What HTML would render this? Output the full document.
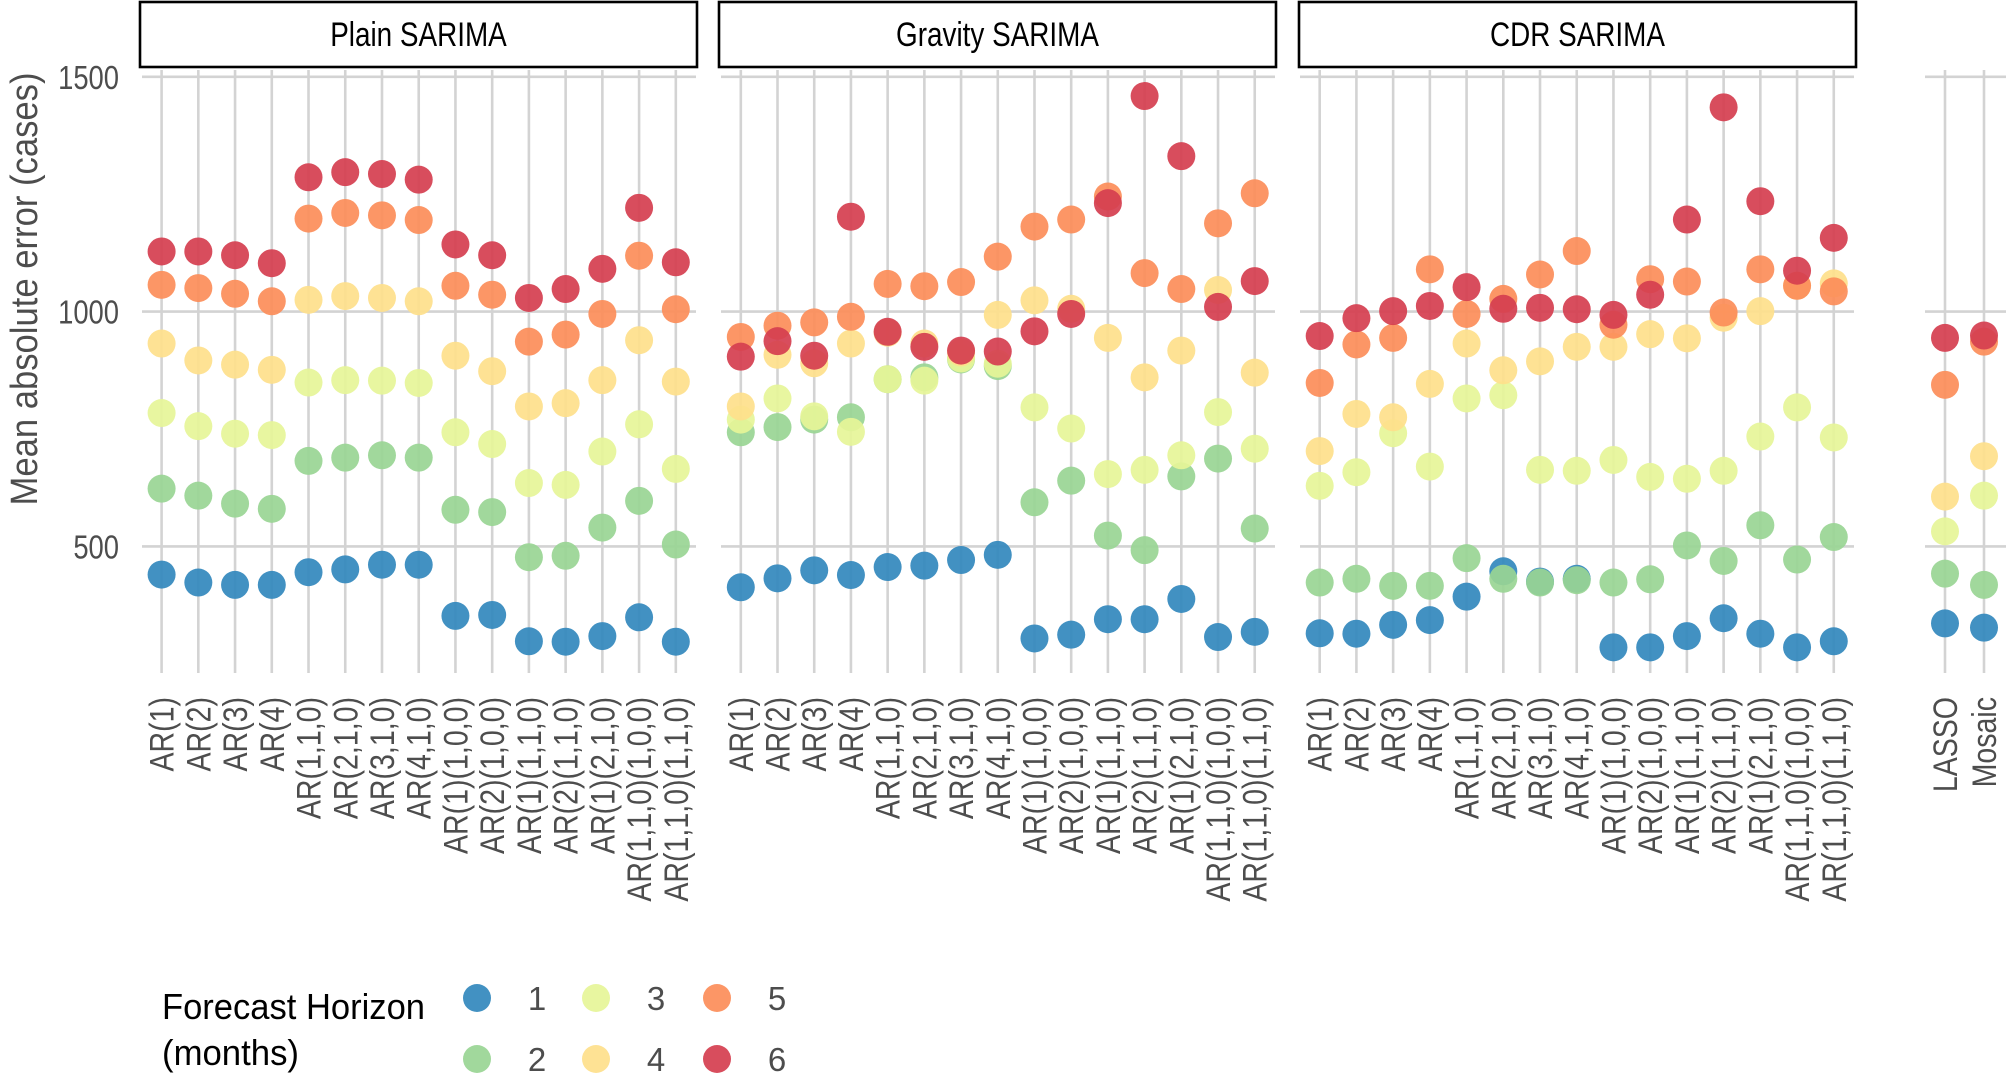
<!DOCTYPE html>
<html><head><meta charset="utf-8"><style>
html,body{margin:0;padding:0;background:#fff}
svg{display:block;font-family:"Liberation Sans Narrow","Liberation Sans",sans-serif}
</style></head><body>
<svg id="chart" width="2006" height="1082" viewBox="0 0 2006 1082" xmlns="http://www.w3.org/2000/svg">
<g id="grid"></g>
<g id="strips"></g>
<g id="points"></g>
<g id="xlabels"></g>
<g id="ylabels"></g>
<text transform="translate(37,289) rotate(-90)" text-anchor="middle" font-size="38" fill="#4d4d4d" textLength="433" lengthAdjust="spacingAndGlyphs">Mean absolute error (cases)</text>
<g id="legend">
<text x="162" y="1019" font-size="36" fill="#000" textLength="263" lengthAdjust="spacingAndGlyphs">Forecast Horizon</text>
<text x="162" y="1065" font-size="36" fill="#000" textLength="137" lengthAdjust="spacingAndGlyphs">(months)</text>
</g>
</svg>
<script>
const panelNames = ["Plain SARIMA","Gravity SARIMA","CDR SARIMA",""];
const catsSarima = ["AR(1)","AR(2)","AR(3)","AR(4)","AR(1,1,0)","AR(2,1,0)","AR(3,1,0)","AR(4,1,0)","AR(1)(1,0,0)","AR(2)(1,0,0)","AR(1)(1,1,0)","AR(2)(1,1,0)","AR(1)(2,1,0)","AR(1,1,0)(1,0,0)","AR(1,1,0)(1,1,0)"];
const catsOther = ["LASSO","Mosaic"];
const horizons = ["1","2","3","4","5","6"];
const yTicks = [500,1000,1500];
// values per panel: each category row = [h1,h2,h3,h4,h5,h6]
const plainVals = [
[440,623,784,932,1057,1128],[423,608,756,896,1050,1128],[418,591,740,887,1038,1120],[418,580,737,876,1022,1103],
[445,682,849,1025,1198,1286],[451,689,854,1033,1210,1297],[461,694,853,1029,1205,1293],[461,689,848,1022,1195,1281],
[352,578,743,906,1055,1143],[354,573,718,873,1036,1120],[298,477,635,798,936,1029],[297,480,631,805,951,1048],
[309,540,702,854,995,1091],[349,597,760,939,1119,1221],[297,504,665,851,1005,1105]];
const gravityVals = [
[413,743,770,798,946,904],[432,754,815,908,970,937],[449,770,777,890,977,906],[439,775,744,932,989,1202],
[456,856,856,955,1059,957],[459,860,853,932,1054,925],[471,898,900,913,1063,917],[482,884,889,993,1117,915],
[304,594,796,1024,1181,958],[312,640,751,1006,1196,995],[345,523,654,944,1245,1231],[345,492,663,860,1082,1459],
[388,649,694,917,1048,1331],[307,687,786,1046,1188,1010],[318,538,708,870,1252,1065]];
const cdrVals = [
[315,423,629,703,848,948],[314,431,658,782,930,986],[333,416,741,775,944,1001],[343,416,670,846,1090,1012],
[393,475,815,932,995,1052],[447,431,822,875,1027,1006],[425,423,663,894,1079,1008],[431,428,661,925,1129,1005],
[285,423,684,925,972,993],[285,430,648,952,1069,1036],[309,502,644,943,1064,1196],[347,469,661,987,998,1435],
[314,545,734,1001,1090,1235],[285,472,796,1055,1055,1087],[298,520,732,1060,1043,1157]];
const otherVals = [[336,442,532,606,844,944],[327,418,608,692,936,949]];
const colors = ["#3288bd","#99d594","#e6f598","#fee08b","#fc8d59","#d53e4f"];

const NS="http://www.w3.org/2000/svg";
function mk(tag,attrs,parent){const e=document.createElementNS(NS,tag);for(const k in attrs)e.setAttribute(k,attrs[k]);parent.appendChild(e);return e;}
function yScale(v){return 311.6-(v-1000)*0.4696;}
const panels=[
 {x0:142,x1:696,first:161.6,step:36.73,cats:catsSarima,vals:plainVals,box:[140,697]},
 {x0:721,x1:1275,first:740.8,step:36.71,cats:catsSarima,vals:gravityVals,box:[719,1276]},
 {x0:1300,x1:1854,first:1319.7,step:36.72,cats:catsSarima,vals:cdrVals,box:[1299,1856]},
 {x0:1925,x1:2006,first:1945,step:39,cats:catsOther,vals:otherVals,box:null}];
const grid=document.getElementById('grid'),strips=document.getElementById('strips'),pts=document.getElementById('points'),xl=document.getElementById('xlabels'),yl=document.getElementById('ylabels');
panels.forEach((p,pi)=>{
  yTicks.forEach(t=>{
    const l=mk('line',{x1:p.x0,x2:p.x1,y1:yScale(t),y2:yScale(t),stroke:'#d3d3d3','stroke-width':2.6},grid);
    
    
  });
  p.cats.forEach((c,ci)=>{
    const x=p.first+ci*p.step;
    const l=mk('line',{x1:x,x2:x,y1:70,y2:673,stroke:'#d3d3d3','stroke-width':2.6},grid);
    
    
    const t=mk('text',{transform:`translate(${x+12},697) rotate(-90) scale(0.84,1)`,'text-anchor':'end','font-size':34,fill:'#4d4d4d'},xl);
    t.textContent=c;
    
    
    p.vals[ci].forEach((v,hi)=>{
      const d=mk('circle',{cx:x,cy:yScale(v),r:14,fill:colors[hi],'fill-opacity':0.92},pts);
      
      
    });
  });
  if(p.box){
    const r=mk('rect',{x:p.box[0],y:2,width:p.box[1]-p.box[0],height:65,fill:'#fff',stroke:'#000','stroke-width':2.6},strips);
    
    
    const t=mk('text',{x:(p.box[0]+p.box[1])/2,y:46,'text-anchor':'middle','font-size':34,fill:'#000',transform:''},strips);
    t.setAttribute('transform',`translate(${(p.box[0]+p.box[1])/2},46) scale(0.82,1) translate(${-(p.box[0]+p.box[1])/2},-46)`);
    t.textContent=panelNames[pi];
    
    
  }
});
yTicks.forEach(t=>{
  const e=mk('text',{transform:`translate(119,${yScale(t)+12}) scale(0.83,1)`,'text-anchor':'end','font-size':33,fill:'#4d4d4d'},yl);
  e.textContent=String(t);
  
  
});
const lg=document.getElementById('legend');
const legX=[477,596,717],legY=[998,1059];
horizons.forEach((h,i)=>{
  const cx=legX[Math.floor(i/2)],cy=legY[i%2];
  const c=mk('circle',{cx:cx,cy:cy,r:14,fill:colors[i],'fill-opacity':0.92},lg);
  
  
  const t=mk('text',{x:cx+60,y:cy+12,'text-anchor':'middle','font-size':33,fill:'#4d4d4d'},lg);
  t.textContent=h;
  
  
});
</script>
</body></html>
